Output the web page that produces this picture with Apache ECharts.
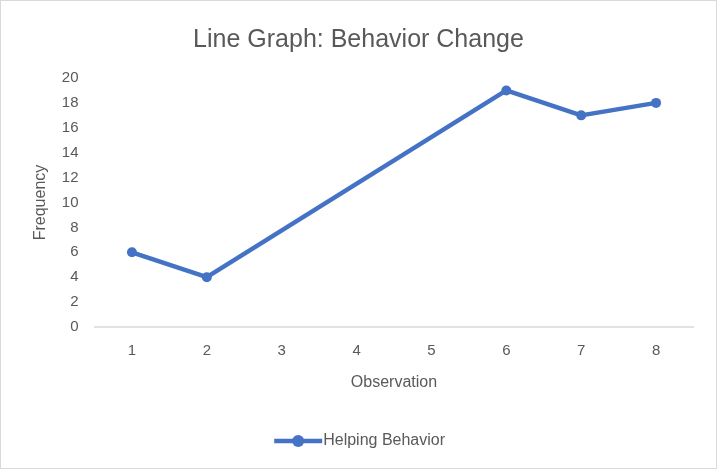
<!DOCTYPE html>
<html><head><meta charset="utf-8">
<script src="https://cdn.jsdelivr.net/npm/echarts@6/dist/echarts.min.js"></script>
<style>html,body{margin:0;padding:0;background:#fff}#c{width:717px;height:469px;box-sizing:border-box;border:1px solid #d9d9d9}</style>
</head><body><div id="c"></div>
<script>
const categories = ['1','2','3','4','5','6','7','8'];
const helping = [6, 4, null, null, null, 19, 17, 18];
const yTicks = [0, 2, 4, 6, 8, 10, 12, 14, 16, 18, 20];
const font = '"Liberation Sans Narrow", "Liberation Sans", sans-serif';
const chart = echarts.init(document.getElementById('c'));
chart.setOption({
  animation: false,
  title: { text: 'Line Graph: Behavior Change', left: 'center', top: 22,
    textStyle: { fontFamily: font, fontSize: 25, fontWeight: 'normal', color: '#595959' } },
  grid: { left: 93.5, right: 22.5, top: 77, bottom: 141, containLabel: false },
  legend: { bottom: 14, left: 'center', itemWidth: 48, itemHeight: 15, itemGap: 10,
    lineStyle: { width: 4.5 },
    textStyle: { fontFamily: font, fontSize: 16, color: '#595959', padding: [0,0,0,-4] },
    data: ['Helping Behavior'] },
  xAxis: { type: 'category', data: categories, boundaryGap: true,
    name: 'Observation', nameLocation: 'middle', nameGap: 48,
    nameTextStyle: { fontFamily: font, fontSize: 16, color: '#595959' },
    axisLine: { lineStyle: { color: '#d9d9d9', width: 1.5 } }, axisTick: { show: false },
    axisLabel: { fontFamily: font, fontSize: 15, color: '#595959', margin: 16 } },
  yAxis: { type: 'value', min: yTicks[0], max: yTicks[yTicks.length-1], interval: 2,
    name: 'Frequency', nameLocation: 'middle', nameGap: 46, nameRotate: 90,
    nameTextStyle: { fontFamily: font, fontSize: 16, color: '#595959' },
    axisLine: { show: false }, axisTick: { show: false }, splitLine: { show: false },
    axisLabel: { fontFamily: font, fontSize: 15, color: '#595959', margin: 16 } },
  series: [{ name: 'Helping Behavior', type: 'line', data: helping, connectNulls: true,
    symbol: 'circle', symbolSize: 10, lineStyle: { color: '#4472C4', width: 4.5 },
    itemStyle: { color: '#4472C4' } }]
});
</script></body></html>
